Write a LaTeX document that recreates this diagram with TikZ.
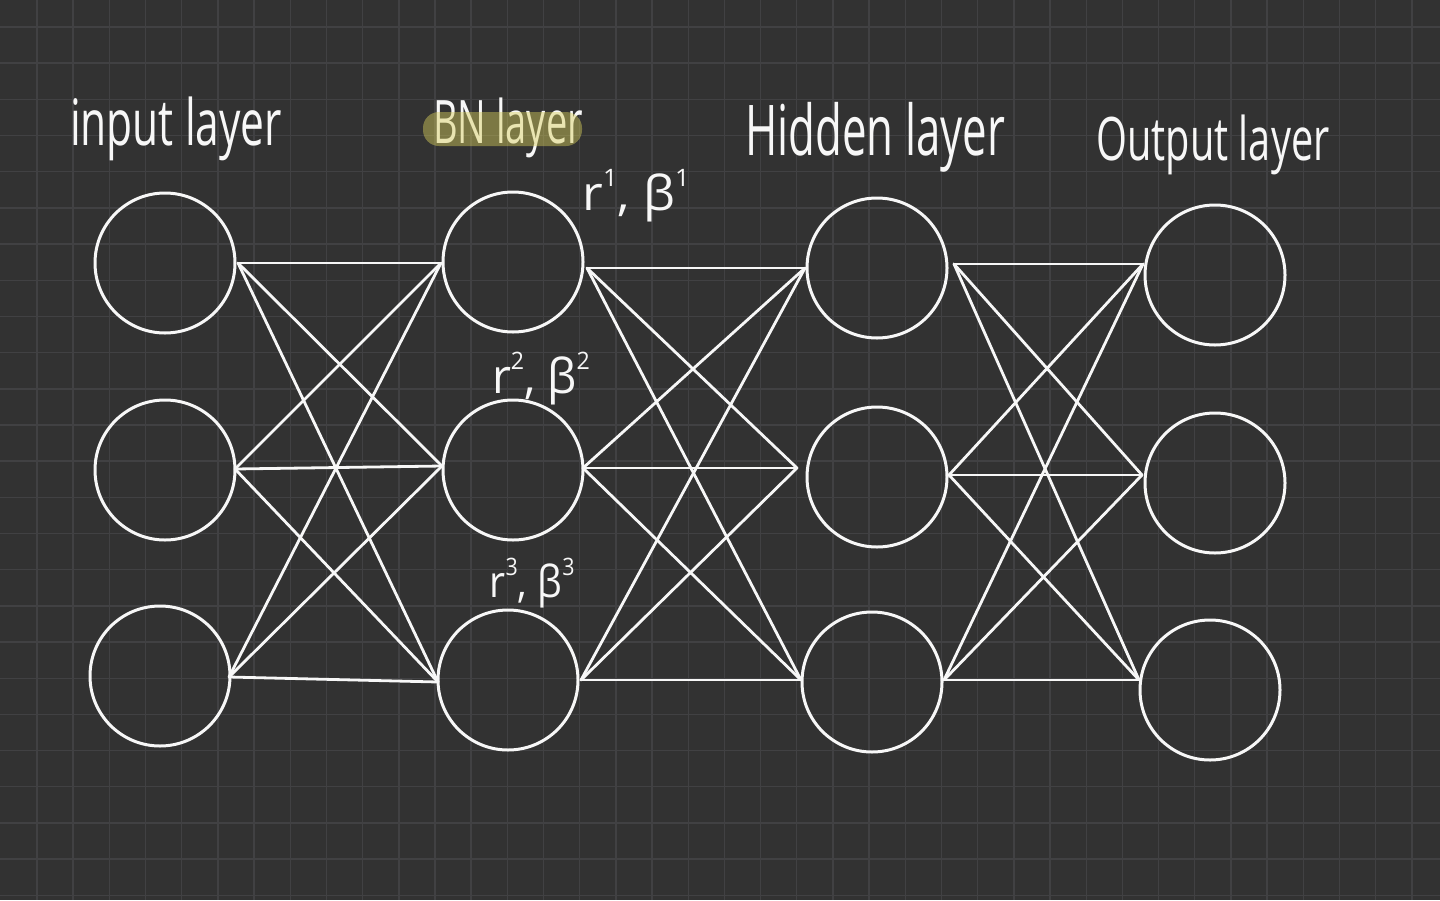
\documentclass[tikz,border=0pt]{standalone}
\usepackage{fontspec}
\setmainfont{Open Sans}
\usepackage{graphicx}
\definecolor{bg}{HTML}{323232}
\definecolor{gridc}{HTML}{414143}
\definecolor{ink}{HTML}{F7F7F7}
\definecolor{hl}{HTML}{D8CF5C}
\newcommand\supx[1]{\raisebox{0.5em}{\fontsize{24}{24}\selectfont #1}}
\tikzset{
  neuron/.style={circle, draw=ink, line width=3pt, minimum size=140pt, inner sep=0pt},
  link/.style={draw=ink, line width=2.8pt},
  gridline/.style={draw=gridc, line width=1.4pt},
  title/.style={text=ink, anchor=base, inner sep=0pt},
  param/.style={text=ink, anchor=base, inner sep=0pt},
}
\begin{document}
\begin{tikzpicture}[x=1pt,y=-1pt]
\fill[bg] (0,0) rectangle (1440,900);
\useasboundingbox (0,0) rectangle (1440,900);
\foreach \i in {0,...,38} \draw[gridline] ({37+36.18*\i},0) -- ({37+36.18*\i},900);
\foreach \j in {0,...,24} \draw[gridline] (0,{27+36.18*\j}) -- (1440,{27+36.18*\j});

% neurons
\node[neuron] (i1) at (165,263) {};
\node[neuron] (i2) at (165,470) {};
\node[neuron] (i3) at (160,676) {};
\node[neuron] (b1) at (513,262) {};
\node[neuron] (b2) at (513,470) {};
\node[neuron] (b3) at (508,680) {};
\node[neuron] (h1) at (877,268) {};
\node[neuron] (h2) at (877,477) {};
\node[neuron] (h3) at (872,682) {};
\node[neuron] (o1) at (1215,275) {};
\node[neuron] (o2) at (1215,483) {};
\node[neuron] (o3) at (1210,690) {};

% connector end points
\coordinate (ia1) at (238,263);
\coordinate (ia2) at (235,469);
\coordinate (ia3) at (229,677);
\coordinate (bl1) at (441,263);
\coordinate (bl2) at (442,466);
\coordinate (bl3) at (438,682);
\coordinate (br1) at (587,268);
\coordinate (br2) at (583,468);
\coordinate (br3) at (581,680);
\coordinate (hl1) at (805,268);
\coordinate (hl2) at (797,468);
\coordinate (hl3) at (801,680);
\coordinate (hr1) at (954,264);
\coordinate (hr2) at (949,475);
\coordinate (hr3) at (944,680);
\coordinate (ol1) at (1143,264);
\coordinate (ol2) at (1142,475);
\coordinate (ol3) at (1139,680);

\foreach \a in {1,2,3}{
  \foreach \b in {1,2,3}{
    \draw[link, line cap=round] (ia\a) -- (bl\b);
    \draw[link, line cap=round] (br\a) -- (hl\b);
    \draw[link, line cap=round] (hr\a) -- (ol\b);
  }
}

% titles
\node[title] (tin) at (176,145) {\resizebox{212pt}{\height}{\fontsize{64}{64}\selectfont input layer}};
\node[title] (tbn) at (508,143) {\resizebox{150pt}{\height}{\fontsize{60}{60}\selectfont BN layer}};
\fill[hl, fill opacity=0.45, rounded corners=16pt] (423,112) rectangle (582,146);
\node[title] (thid) at (875,155) {\resizebox{260pt}{\height}{\fontsize{70}{70}\selectfont Hidden layer}};
\node[title] (tout) at (1213,160) {\resizebox{233pt}{\height}{\fontsize{60}{60}\selectfont Output layer}};

% BN parameters
\node[param] (p1) at (636,210) {\resizebox{107pt}{\height}{\fontsize{48}{48}\selectfont r\supx{1}, β\supx{1}}};
\node[param] (p2) at (541,393) {\resizebox{98pt}{\height}{\fontsize{48}{48}\selectfont r\supx{2}, β\supx{2}}};
\node[param] (p3) at (532,597) {\resizebox{85pt}{\height}{\fontsize{44}{44}\selectfont r\supx{3}, β\supx{3}}};
\end{tikzpicture}
\end{document}
